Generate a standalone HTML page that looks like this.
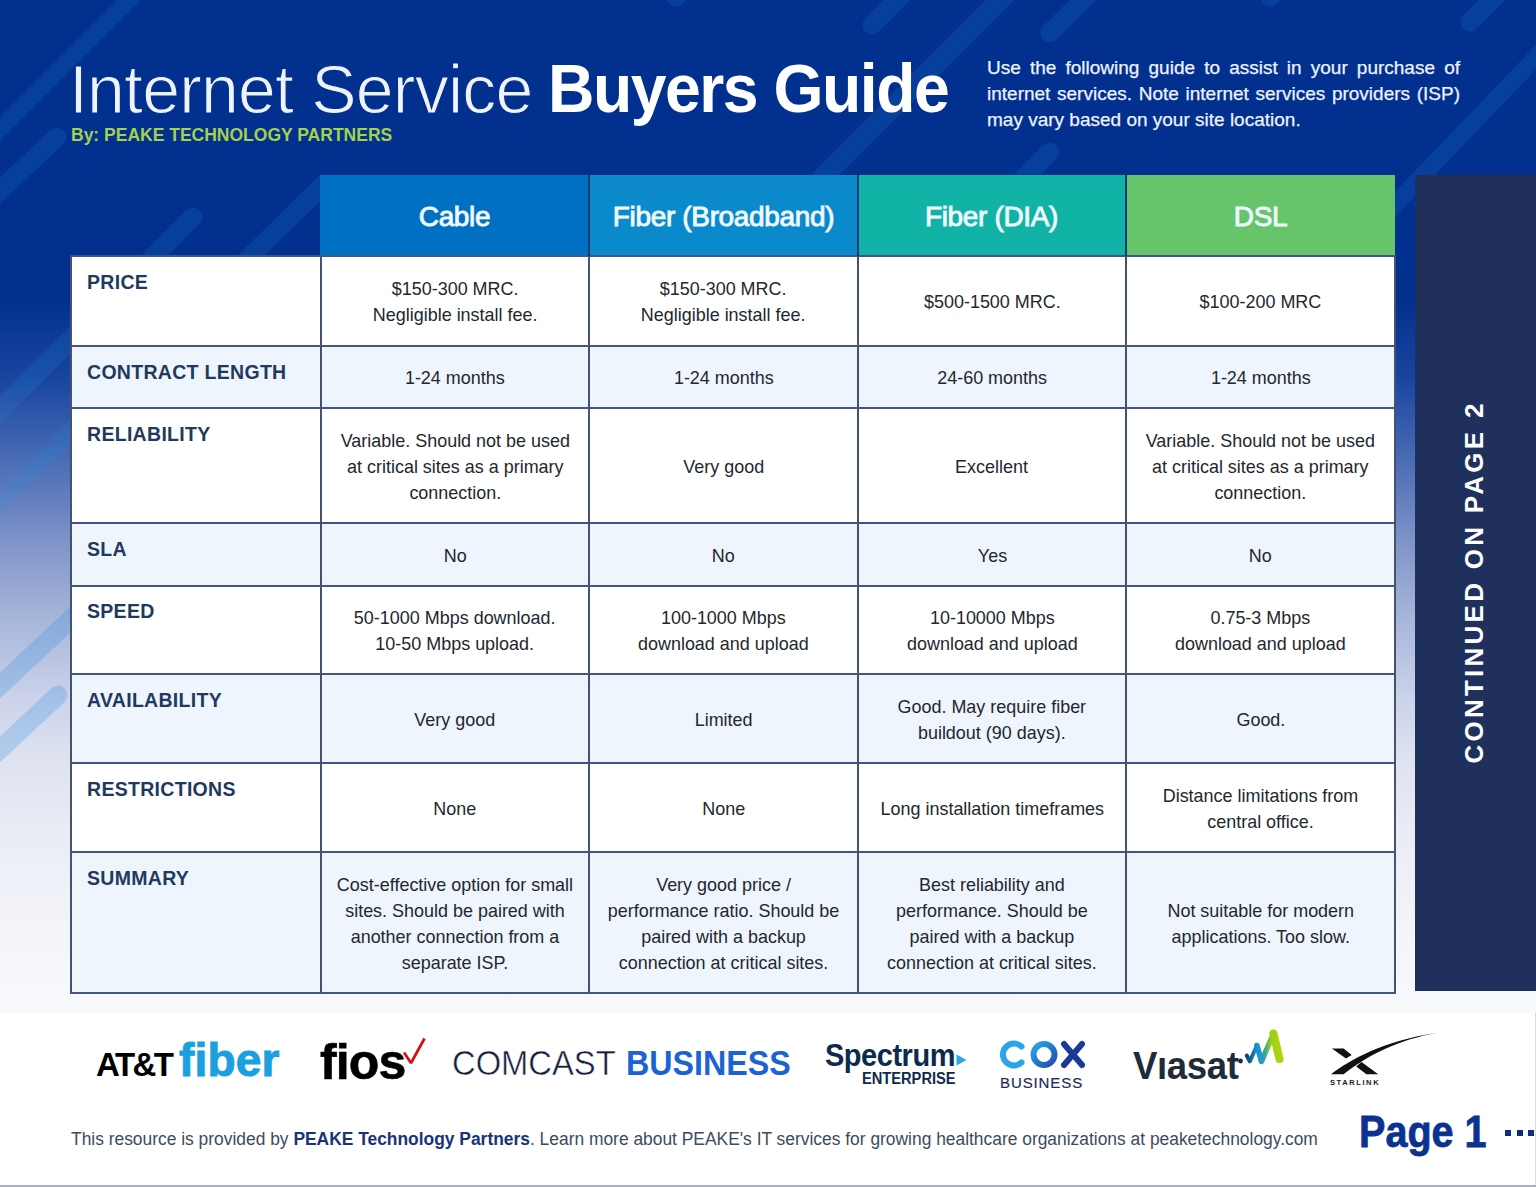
<!DOCTYPE html>
<html><head><meta charset="utf-8">
<style>
*{margin:0;padding:0;box-sizing:border-box}
html,body{width:1536px;height:1187px;overflow:hidden;background:#fff;font-family:"Liberation Sans",sans-serif}
.abs{position:absolute}
#hero{position:absolute;left:0;top:0;width:1536px;height:1013px;overflow:hidden;
background:linear-gradient(to bottom,#02308f 0px,#02308f 300px,#1a46a0 380px,#4a6cb4 460px,#7e93c8 540px,#a8b6da 620px,#ccd3ea 700px,#dfe3f0 760px,#eceef6 850px,#f5f6fa 950px,#f8f9fc 1000px,#f8f9fc 1013px)}
.stripe{position:absolute;height:22px;border-radius:11px;background:rgba(40,120,210,.28);transform-origin:0 50%;transform:rotate(-45deg)}
.title{position:absolute;left:69px;top:43.5px;font-size:68px;line-height:90px;color:#eef4ff;white-space:nowrap}
.title .l{letter-spacing:-.8px;-webkit-text-stroke:1.2px #02308f}
.title2{position:absolute;left:548px;top:44px;font-size:69px;line-height:90px;font-weight:bold;letter-spacing:-1.6px;color:#fff;white-space:nowrap;transform-origin:0 0;transform:scaleX(.932)}
.by{position:absolute;left:71px;top:123px;font-size:17.5px;font-weight:bold;color:#a4d24a;white-space:nowrap;line-height:24px}
.desc{position:absolute;left:987px;top:55px;width:473px;font-size:19px;line-height:26px;color:#eef3ff;text-align:justify;text-align-last:left;-webkit-text-stroke:.25px #eef3ff}
.hd{position:absolute;top:175px;height:81px;padding-top:3px;display:flex;align-items:center;justify-content:center;color:#eef8ff;font-size:28px;letter-spacing:-.35px;-webkit-text-stroke:.9px #eef8ff}
.rowbg{position:absolute;left:71px;width:1324px}
.hl{position:absolute;left:70px;width:1326px;height:2px;background:#42548a}
.vl{position:absolute;width:2px;background:#44546e}
.rh{position:absolute;left:87px;font-size:19.5px;font-weight:bold;color:#1f3a5e;letter-spacing:.3px;white-space:nowrap;line-height:24px}
.cell{position:absolute;display:flex;align-items:center;justify-content:center;text-align:center;font-size:19px;line-height:26px;color:#23272e}
.cell span{display:inline-block;white-space:nowrap;transform:translateY(.8px) scaleX(.945)}
#side{position:absolute;left:1415px;top:175px;width:121px;height:816px;background:#20305c}
.cont{position:absolute;left:1474px;top:581.5px;transform:translate(-50%,-50%) rotate(-90deg);font-size:26px;line-height:30px;font-weight:bold;color:#fff;letter-spacing:3.25px;white-space:nowrap}
.foot{position:absolute;left:71px;top:1126.5px;font-size:18px;line-height:24px;color:#3d4b60;white-space:nowrap;transform-origin:0 0;transform:scaleX(.9665)}
.foot b{color:#17337a}
.page{position:absolute;left:1359px;top:1104px;font-size:44.3px;font-weight:bold;color:#0b3290;white-space:nowrap;line-height:56px;transform-origin:0 0;transform:scaleX(.893);-webkit-text-stroke:.8px #0b3290}
</style></head><body>
<div id="hero">
<svg width="1536" height="1013" style="position:absolute;left:0;top:0">
<defs><clipPath id="cd"><rect x="-50" y="176" width="1700" height="1000"/></clipPath></defs>
<g stroke="rgba(34,140,224,0.17)" stroke-width="19" stroke-linecap="round" fill="none">
<line x1="-20" y1="149" x2="149" y2="-20" stroke-width="17"/>
<line x1="57" y1="137" x2="-40" y2="228"/>
<line x1="193" y1="217" x2="-40" y2="450"/>
<line x1="340" y1="168.4" x2="-40" y2="540.8" clip-path="url(#cd)"/>
<line x1="150" y1="545" x2="-40" y2="723" stroke="rgba(34,140,224,0.24)"/>
<line x1="58" y1="695" x2="-40" y2="787" stroke="rgba(34,140,224,0.24)"/>
<line x1="676" y1="-3" x2="760" y2="-87"/>
<line x1="872" y1="25" x2="960" y2="-63"/>
<line x1="1040" y1="-40" x2="780" y2="220" stroke-width="20"/>
<line x1="1050" y1="33" x2="1130" y2="-47"/>
<line x1="1050" y1="152" x2="950" y2="252"/>
<line x1="1270" y1="-3" x2="1350" y2="-83"/>
<line x1="1470" y1="22" x2="1550" y2="-58"/>
<line x1="1560" y1="32" x2="1380" y2="220" stroke-width="17"/>
</g></svg>
</div>

<div class="title"><span class="l">Internet Service</span></div><div class="title2">Buyers Guide</div>
<div class="by">By: PEAKE TECHNOLOGY PARTNERS</div>
<div class="desc">Use the following guide to assist in your purchase of internet services. Note internet services providers (ISP) may vary based on your site location.</div>

<!-- table -->
<div class="hd" style="left:320px;width:269px;background:#0070c2">Cable</div>
<div class="hd" style="left:589px;width:269px;background:#0a8aca">Fiber (Broadband)</div>
<div class="hd" style="left:857px;width:269px;background:#12b3a7">Fiber (DIA)</div>
<div class="hd" style="left:1126px;width:269px;background:#66c56a">DSL</div>

<div class="rowbg" style="top:256px;height:90px;background:#fff"></div>
<div class="rowbg" style="top:345px;height:63px;background:#eef5fd"></div>
<div class="rowbg" style="top:407px;height:116px;background:#fff"></div>
<div class="rowbg" style="top:523px;height:63px;background:#eef5fd"></div>
<div class="rowbg" style="top:585px;height:89px;background:#fff"></div>
<div class="rowbg" style="top:674px;height:89px;background:#eef5fd"></div>
<div class="rowbg" style="top:762px;height:90px;background:#fff"></div>
<div class="rowbg" style="top:851px;height:141px;background:#eef5fd"></div>

<div class="hl" style="top:255px"></div>
<div class="hl" style="top:344.5px"></div>
<div class="hl" style="top:406.5px"></div>
<div class="hl" style="top:522px"></div>
<div class="hl" style="top:584.5px"></div>
<div class="hl" style="top:673px"></div>
<div class="hl" style="top:761.5px"></div>
<div class="hl" style="top:850.5px"></div>
<div class="hl" style="top:991.5px"></div>
<div class="vl" style="left:70px;top:255px;height:738px"></div>
<div class="vl" style="left:319.5px;top:255px;height:738px"></div>
<div class="vl" style="left:588px;top:175px;height:81px;background:#0d3a78"></div><div class="vl" style="left:588px;top:256px;height:737px"></div>
<div class="vl" style="left:856.5px;top:175px;height:81px;background:#0d3a78"></div><div class="vl" style="left:856.5px;top:256px;height:737px"></div>
<div class="vl" style="left:1125px;top:175px;height:81px;background:#0d3a78"></div><div class="vl" style="left:1125px;top:256px;height:737px"></div>
<div class="vl" style="left:1393.5px;top:255px;height:738px"></div>

<div class="rh" style="top:269.5px">PRICE</div>
<div class="rh" style="top:359.5px">CONTRACT LENGTH</div>
<div class="rh" style="top:421.5px">RELIABILITY</div>
<div class="rh" style="top:536.5px">SLA</div>
<div class="rh" style="top:598.5px">SPEED</div>
<div class="rh" style="top:687.5px">AVAILABILITY</div>
<div class="rh" style="top:776.5px">RESTRICTIONS</div>
<div class="rh" style="top:865.5px">SUMMARY</div>

<div id="cells">
<div class="cell" style="left:321px;top:257px;width:268px;height:88.5px"><span>$150-300 MRC.<br>Negligible install fee.</span></div>
<div class="cell" style="left:589px;top:257px;width:269px;height:88.5px"><span>$150-300 MRC.<br>Negligible install fee.</span></div>
<div class="cell" style="left:858px;top:257px;width:268px;height:88.5px"><span>$500-1500 MRC.</span></div>
<div class="cell" style="left:1126px;top:257px;width:269px;height:88.5px"><span>$100-200 MRC</span></div>
<div class="cell" style="left:321px;top:346.5px;width:268px;height:61.2px"><span>1-24 months</span></div>
<div class="cell" style="left:589px;top:346.5px;width:269px;height:61.2px"><span>1-24 months</span></div>
<div class="cell" style="left:858px;top:346.5px;width:268px;height:61.2px"><span>24-60 months</span></div>
<div class="cell" style="left:1126px;top:346.5px;width:269px;height:61.2px"><span>1-24 months</span></div>
<div class="cell" style="left:321px;top:408.7px;width:268px;height:114.3px"><span>Variable. Should not be used<br>at critical sites as a primary<br>connection.</span></div>
<div class="cell" style="left:589px;top:408.7px;width:269px;height:114.3px"><span>Very good</span></div>
<div class="cell" style="left:858px;top:408.7px;width:268px;height:114.3px"><span>Excellent</span></div>
<div class="cell" style="left:1126px;top:408.7px;width:269px;height:114.3px"><span>Variable. Should not be used<br>at critical sites as a primary<br>connection.</span></div>
<div class="cell" style="left:321px;top:524px;width:268px;height:61.5px"><span>No</span></div>
<div class="cell" style="left:589px;top:524px;width:269px;height:61.5px"><span>No</span></div>
<div class="cell" style="left:858px;top:524px;width:268px;height:61.5px"><span>Yes</span></div>
<div class="cell" style="left:1126px;top:524px;width:269px;height:61.5px"><span>No</span></div>
<div class="cell" style="left:321px;top:586.5px;width:268px;height:87.5px"><span>50-1000 Mbps download.<br>10-50 Mbps upload.</span></div>
<div class="cell" style="left:589px;top:586.5px;width:269px;height:87.5px"><span>100-1000 Mbps<br>download and upload</span></div>
<div class="cell" style="left:858px;top:586.5px;width:268px;height:87.5px"><span>10-10000 Mbps<br>download and upload</span></div>
<div class="cell" style="left:1126px;top:586.5px;width:269px;height:87.5px"><span>0.75-3 Mbps<br>download and upload</span></div>
<div class="cell" style="left:321px;top:675px;width:268px;height:87.5px"><span>Very good</span></div>
<div class="cell" style="left:589px;top:675px;width:269px;height:87.5px"><span>Limited</span></div>
<div class="cell" style="left:858px;top:675px;width:268px;height:87.5px"><span>Good. May require fiber<br>buildout (90 days).</span></div>
<div class="cell" style="left:1126px;top:675px;width:269px;height:87.5px"><span>Good.</span></div>
<div class="cell" style="left:321px;top:763.5px;width:268px;height:88.2px"><span>None</span></div>
<div class="cell" style="left:589px;top:763.5px;width:269px;height:88.2px"><span>None</span></div>
<div class="cell" style="left:858px;top:763.5px;width:268px;height:88.2px"><span>Long installation timeframes</span></div>
<div class="cell" style="left:1126px;top:763.5px;width:269px;height:88.2px"><span>Distance limitations from<br>central office.</span></div>
<div class="cell" style="left:321px;top:852.7px;width:268px;height:139.8px"><span>Cost-effective option for small<br>sites. Should be paired with<br>another connection from a<br>separate ISP.</span></div>
<div class="cell" style="left:589px;top:852.7px;width:269px;height:139.8px"><span>Very good price /<br>performance ratio. Should be<br>paired with a backup<br>connection at critical sites.</span></div>
<div class="cell" style="left:858px;top:852.7px;width:268px;height:139.8px"><span>Best reliability and<br>performance. Should be<br>paired with a backup<br>connection at critical sites.</span></div>
<div class="cell" style="left:1126px;top:852.7px;width:269px;height:139.8px"><span>Not suitable for modern<br>applications. Too slow.</span></div>
</div>

<div id="side"></div>
<div class="cont">CONTINUED ON PAGE 2</div>

<div id="logos">
<div style="position:absolute;left:96px;top:1047.7px;font-size:33px;line-height:33px;font-weight:bold;color:#000;letter-spacing:-2.5px;white-space:nowrap;">AT&amp;T</div>
<div style="position:absolute;left:179px;top:1036.7px;font-size:46px;line-height:46px;font-weight:bold;color:#1a9fdf;letter-spacing:0.2px;white-space:nowrap;-webkit-text-stroke:1px #1a9fdf;">fiber</div>
<div style="position:absolute;left:320px;top:1037.2px;font-size:50px;line-height:50px;font-weight:bold;color:#000;letter-spacing:-0.9px;white-space:nowrap;-webkit-text-stroke:.6px #000;">fios</div>
<svg style="position:absolute;left:400px;top:1034px" width="30" height="34"><path d="M4 18.5 L11 29 L24.5 4.5" stroke="#d0121b" stroke-width="2.8" fill="none" stroke-linejoin="bevel"/></svg>
<div style="position:absolute;left:452px;top:1044.9px;font-size:35px;line-height:35px;font-weight:normal;color:#14213d;letter-spacing:0px;white-space:nowrap;transform-origin:0 0;transform:scaleX(0.935);-webkit-text-stroke:.5px #fff;">COMCAST</div>
<div style="position:absolute;left:626px;top:1044.9px;font-size:35px;line-height:35px;font-weight:bold;color:#1b63d4;letter-spacing:0px;white-space:nowrap;transform-origin:0 0;transform:scaleX(0.92);">BUSINESS</div>
<div style="position:absolute;left:825px;top:1039.8px;font-size:31px;line-height:31px;font-weight:bold;color:#0c2a4c;letter-spacing:-0.5px;white-space:nowrap;transform-origin:0 0;transform:scaleX(0.935);">Spectrum</div>
<svg style="position:absolute;left:955px;top:1053px" width="14" height="14"><path d="M1.5 1.5 L11.5 7 L1.5 12.5 Z" fill="#2aa8e0"/></svg>
<div style="position:absolute;left:862px;top:1070.5px;font-size:16px;line-height:16px;font-weight:bold;color:#0c2a4c;letter-spacing:0px;white-space:nowrap;transform-origin:0 0;transform:scaleX(0.915);">ENTERPRISE</div>
<svg style="position:absolute;left:998px;top:1038px" width="92" height="34">
<defs><linearGradient id="og" x1="0" y1="0" x2="1" y2="1"><stop offset="0" stop-color="#2ba6e6"/><stop offset="1" stop-color="#1f4fb0"/></linearGradient></defs>
<path d="M23.5 8.5 A11 11 0 1 0 23.5 24.5" stroke="#2aa5e8" stroke-width="6" fill="none" stroke-linecap="round"/>
<circle cx="46" cy="16.5" r="10.5" stroke="url(#og)" stroke-width="6" fill="none"/>
<path d="M66 6 L84 27 M84 6 L66 27" stroke="#1b3a98" stroke-width="6" stroke-linecap="round"/>
</svg>
<div style="position:absolute;left:1000px;top:1075.3px;font-size:15px;line-height:15px;font-weight:normal;color:#1f2d5c;letter-spacing:0.9px;white-space:nowrap;-webkit-text-stroke:.2px #1f2d5c;">BUSINESS</div>
<div style="position:absolute;left:1133px;top:1046.8px;font-size:38.5px;line-height:38.5px;font-weight:bold;color:#1f2b38;letter-spacing:-0.4px;white-space:nowrap;transform-origin:0 0;transform:scaleX(0.95);">V&#305;asat</div>
<svg style="position:absolute;left:1230px;top:1025px" width="60" height="50">
<defs><linearGradient id="vg" gradientUnits="userSpaceOnUse" x1="14" y1="0" x2="50" y2="0"><stop offset="0" stop-color="#0d2f4f"/><stop offset=".35" stop-color="#1a90d8"/><stop offset=".55" stop-color="#2aa0b0"/><stop offset=".75" stop-color="#9ccf14"/><stop offset="1" stop-color="#aed40e"/></linearGradient></defs>
<circle cx="10.5" cy="36" r="2.4" fill="#1f2b38"/>
<path d="M16.8 30.5 L19.8 36.3 L27 20.5" stroke="url(#vg)" stroke-width="4" fill="none" stroke-linecap="round" stroke-linejoin="round"/>
<path d="M27 20.5 L31.5 36.5 L43.5 8.5" stroke="url(#vg)" stroke-width="5.5" fill="none" stroke-linecap="round" stroke-linejoin="round"/>
<path d="M43.5 8.5 L49.5 34" stroke="url(#vg)" stroke-width="8" fill="none" stroke-linecap="round"/>
</svg>
<svg style="position:absolute;left:1320px;top:1025px" width="125" height="67">
<path d="M11.8 23.6 L23.6 23.6 L31.7 30.1 L26 33.4 Z" fill="#111"/>
<path d="M11 49.2 C 30 35, 62 16, 117.2 7.7 C 78 15, 48 30, 23.6 49.2 Z" fill="#111"/>
<path d="M36.2 41.5 L41.5 37 L58.2 49.2 L46.4 49.2 Z" fill="#111"/>
</svg>
<div style="position:absolute;left:1330px;top:1079.3px;font-size:7.5px;line-height:7.5px;font-weight:bold;color:#222;letter-spacing:1.6px;white-space:nowrap;">STARLINK</div>
<div style="position:absolute;left:1505px;top:1130px;width:6px;height:6px;background:#0e2d78"></div>
<div style="position:absolute;left:1517px;top:1130px;width:6px;height:6px;background:#0e2d78"></div>
<div style="position:absolute;left:1528px;top:1130px;width:6px;height:6px;background:#0e2d78"></div>
<div style="position:absolute;left:1535px;top:1013px;width:1px;height:174px;background:#d8dade"></div>
<div style="position:absolute;left:0;top:1185px;width:1536px;height:2px;background:#aab0bc"></div>
</div>

<div class="foot">This resource is provided by <b>PEAKE Technology Partners</b>. Learn more about PEAKE's IT services for growing healthcare organizations at peaketechnology.com</div>
<div class="page">Page 1</div>
</body></html>
